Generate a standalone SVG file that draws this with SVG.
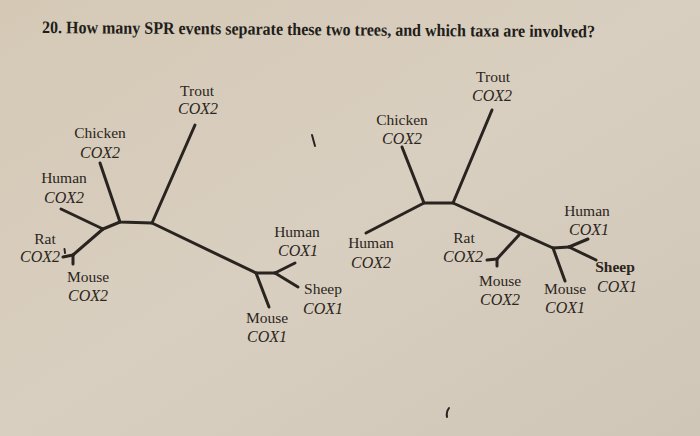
<svg xmlns="http://www.w3.org/2000/svg" width="700" height="436" viewBox="0 0 700 436">
<defs>
<linearGradient id="bg" x1="0" y1="0" x2="1" y2="1">
<stop offset="0" stop-color="#d5c9b6"/>
<stop offset="0.5" stop-color="#d9cfc0"/>
<stop offset="1" stop-color="#cfc6b8"/>
</linearGradient>
<style>
.br{stroke:#2a2420;stroke-width:3;fill:none;stroke-linecap:round;stroke-linejoin:round}
.n{font-family:"Liberation Serif","Times New Roman",serif;font-size:15.5px;fill:#2b2520;text-anchor:middle}
.g{font-family:"Liberation Serif","Times New Roman",serif;font-size:16px;font-style:italic;fill:#2b2520;text-anchor:middle}
.t{font-family:"Liberation Serif","Times New Roman",serif;font-size:17.5px;font-weight:bold;fill:#221d1a}
.mark{stroke:#2a2420;stroke-width:2;fill:none;stroke-linecap:round}
</style>
</defs>
<rect width="700" height="436" fill="url(#bg)"/>
<text class="t" x="42" y="33" textLength="553" lengthAdjust="spacingAndGlyphs" transform="rotate(0.45 42 33)">20. How many SPR events separate these two trees, and which taxa are involved?</text>

<g id="connectors">
<!-- left tree -->
<polyline class="br" points="100,163 120,222 152,223 195,125"/>
<line class="br" x1="120" y1="222" x2="103" y2="229"/>
<line class="br" x1="103" y1="229" x2="61" y2="209"/>
<line class="br" x1="103" y1="229" x2="73" y2="255"/>
<line class="br" x1="73" y1="255" x2="63" y2="257"/>
<line class="br" x1="73" y1="255" x2="73" y2="264"/>
<line class="br" x1="152" y1="223" x2="256" y2="273"/>
<line class="br" x1="256" y1="273" x2="275" y2="273"/>
<line class="br" x1="275" y1="273" x2="295" y2="263"/>
<line class="br" x1="275" y1="273" x2="298" y2="287"/>
<line class="br" x1="256" y1="273" x2="269" y2="307"/>
<!-- right tree -->
<polyline class="br" points="402,147 424,203 453,203 492,110"/>
<line class="br" x1="424" y1="203" x2="366" y2="233"/>
<line class="br" x1="453" y1="203" x2="553" y2="248"/>
<line class="br" x1="519" y1="235" x2="497" y2="259"/>
<line class="br" x1="497" y1="259" x2="487" y2="260"/>
<line class="br" x1="497" y1="259" x2="497" y2="266"/>
<line class="br" x1="553" y1="248" x2="569" y2="247"/>
<line class="br" x1="569" y1="247" x2="588" y2="239"/>
<line class="br" x1="569" y1="247" x2="596" y2="260"/>
<line class="br" x1="553" y1="248" x2="565" y2="281"/>
</g>

<g id="left-trout"><text class="n" x="197" y="96">Trout</text><text class="g" x="198" y="114">COX2</text></g>
<g id="left-chicken"><text class="n" x="100" y="138">Chicken</text><text class="g" x="100" y="158">COX2</text></g>
<g id="left-human-cox2"><text class="n" x="64" y="183">Human</text><text class="g" x="64" y="203">COX2</text></g>
<g id="left-rat"><text class="n" x="45" y="244">Rat</text><text class="g" x="40" y="262">COX2</text><line class="mark" x1="64.5" y1="249" x2="65" y2="253"/></g>
<g id="left-mouse-cox2"><text class="n" x="88" y="282">Mouse</text><text class="g" x="88" y="301">COX2</text></g>
<g id="left-human-cox1"><text class="n" x="297" y="237">Human</text><text class="g" x="298" y="256">COX1</text></g>
<g id="left-sheep"><text class="n" x="323" y="294">Sheep</text><text class="g" x="323" y="314">COX1</text></g>
<g id="left-mouse-cox1"><text class="n" x="267" y="323">Mouse</text><text class="g" x="267" y="342">COX1</text></g>

<g id="right-trout"><text class="n" x="493" y="82">Trout</text><text class="g" x="492" y="101">COX2</text></g>
<g id="right-chicken"><text class="n" x="402" y="125">Chicken</text><text class="g" x="402" y="144">COX2</text></g>
<g id="right-human-cox2"><text class="n" x="371" y="248">Human</text><text class="g" x="371" y="268">COX2</text></g>
<g id="right-rat"><text class="n" x="464" y="243">Rat</text><text class="g" x="463" y="262">COX2</text></g>
<g id="right-mouse-cox2"><text class="n" x="500" y="286">Mouse</text><text class="g" x="500" y="305">COX2</text></g>
<g id="right-human-cox1"><text class="n" x="587" y="216">Human</text><text class="g" x="589" y="235">COX1</text></g>
<g id="right-sheep"><text class="n" x="615" y="272" font-weight="bold">Sheep</text><text class="g" x="617" y="292">COX1</text></g>
<g id="right-mouse-cox1"><text class="n" x="565" y="294">Mouse</text><text class="g" x="565" y="313">COX1</text></g>

<line class="mark" x1="312" y1="135" x2="315" y2="146"/>
<path class="mark" d="M449,408 Q446,412 447,417" stroke-width="1.5"/>
</svg>
